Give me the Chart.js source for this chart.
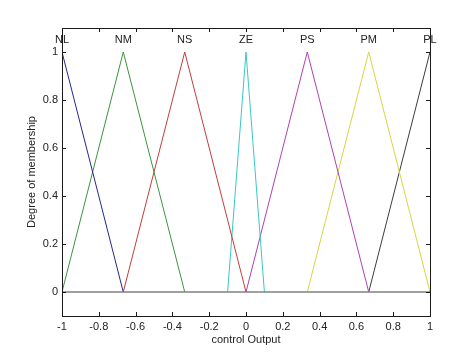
<!DOCTYPE html>
<html>
<head>
<meta charset="utf-8">
<script src="https://cdn.jsdelivr.net/npm/chart.js@4.4.1/dist/chart.umd.min.js"></script>
<style>
    html, body { margin: 0; padding: 0; background: #fff; }
    #wrap { width: 474px; height: 355px; }
</style>
</head>
<body>
<div id="wrap"><canvas id="chart" width="474" height="355"></canvas></div>
<script>
// Membership functions (triangles, clipped to [-1, 1])
const mfNames = ['NL', 'NM', 'NS', 'ZE', 'PS', 'PM', 'PL'];
const mfX = [
    [-1, -0.667],
    [-1, -0.667, -0.333],
    [-0.667, -0.333, 0],
    [-0.1, 0, 0.1],
    [0, 0.333, 0.667],
    [0.333, 0.667, 1],
    [0.667, 1]
];
const mfY = [
    [1, 0],
    [0, 1, 0],
    [0, 1, 0],
    [0, 1, 0],
    [0, 1, 0],
    [0, 1, 0],
    [0, 1]
];
const mfPeaks = [-1, -0.667, -0.333, 0, 0.333, 0.667, 1];
const mfColors = ['#26268a', '#3c943c', '#c23c3c', '#3cc6c6', '#b040b0', '#d6d640', '#3c3c3c'];

const zeroX = [-1, 1];
const zeroY = [0, 0];

const xTicks = [-1, -0.8, -0.6, -0.4, -0.2, 0, 0.2, 0.4, 0.6, 0.8, 1];
const yTicks = [0, 0.2, 0.4, 0.6, 0.8, 1];

const FONT = "'Liberation Sans', Arial, sans-serif";

function toPoints(xs, ys) {
    return xs.map((x, i) => ({ x: x, y: ys[i] }));
}

const datasets = [{
    label: 'zero',
    data: toPoints(zeroX, zeroY),
    borderColor: '#808080',
    borderWidth: 1.5
}];
mfNames.forEach((name, i) => {
    datasets.push({
        label: name,
        data: toPoints(mfX[i], mfY[i]),
        borderColor: mfColors[i],
        borderWidth: 1
    });
});

// Box, inward ticks and MF labels, MATLAB style
const matlabFrame = {
    id: 'matlabFrame',
    afterDatasetsDraw(chart) {
        const ctx = chart.ctx;
        const a = chart.chartArea;
        const xs = chart.scales.x;
        const ys = chart.scales.y;
        ctx.save();
        ctx.strokeStyle = '#1a1a1a';
        ctx.lineWidth = 1;
        ctx.strokeRect(Math.round(a.left) + 0.5, Math.round(a.top) + 0.5,
            Math.round(a.right - a.left), Math.round(a.bottom - a.top));
        ctx.beginPath();
        xTicks.forEach(v => {
            const px = Math.round(xs.getPixelForValue(v)) + 0.5;
            ctx.moveTo(px, a.bottom); ctx.lineTo(px, a.bottom - 4);
            ctx.moveTo(px, a.top); ctx.lineTo(px, a.top + 4);
        });
        yTicks.forEach(v => {
            const py = Math.round(ys.getPixelForValue(v)) + 0.5;
            ctx.moveTo(a.left, py); ctx.lineTo(a.left + 4, py);
            ctx.moveTo(a.right, py); ctx.lineTo(a.right - 4, py);
        });
        ctx.stroke();

        ctx.fillStyle = '#222';
        ctx.font = '11px ' + FONT;
        ctx.textAlign = 'center';
        ctx.textBaseline = 'middle';
        mfNames.forEach((name, i) => {
            ctx.fillText(name, xs.getPixelForValue(mfPeaks[i]), ys.getPixelForValue(1.05));
        });
        ctx.restore();
    }
};

new Chart(document.getElementById('chart'), {
    type: 'line',
    data: { datasets: datasets },
    options: {
        responsive: false,
        animation: false,
        layout: { padding: { top: 28, right: 44, left: 21, bottom: 0 } },
        elements: { point: { radius: 0 }, line: { tension: 0 } },
        plugins: {
            legend: { display: false },
            tooltip: { enabled: false }
        },
        scales: {
            x: {
                type: 'linear',
                min: -1,
                max: 1,
                afterBuildTicks: scale => { scale.ticks = xTicks.map(v => ({ value: v })); },
                afterFit: scale => { scale.height = 39; },
                grid: { display: false, drawTicks: false },
                border: { display: false },
                ticks: {
                    color: '#222',
                    padding: 4,
                    maxRotation: 0,
                    autoSkip: false,
                    font: { family: FONT, size: 11 },
                    callback: v => String(Number(v.toFixed(1)))
                },
                title: {
                    display: true,
                    text: 'control Output',
                    color: '#222',
                    padding: { top: 0, bottom: 8 },
                    font: { family: FONT, size: 11 }
                }
            },
            y: {
                type: 'linear',
                min: -0.1,
                max: 1.1,
                afterBuildTicks: scale => { scale.ticks = yTicks.map(v => ({ value: v })); },
                afterFit: scale => { scale.width = 41; },
                grid: { display: false, drawTicks: false },
                border: { display: false },
                ticks: {
                    color: '#222',
                    padding: 4,
                    font: { family: FONT, size: 11 },
                    callback: v => String(Number(v.toFixed(1)))
                },
                title: {
                    display: true,
                    text: 'Degree of membership',
                    color: '#222',
                    padding: { top: 4, bottom: 0 },
                    font: { family: FONT, size: 11 }
                }
            }
        }
    },
    plugins: [matlabFrame]
});
</script>
</body>
</html>
